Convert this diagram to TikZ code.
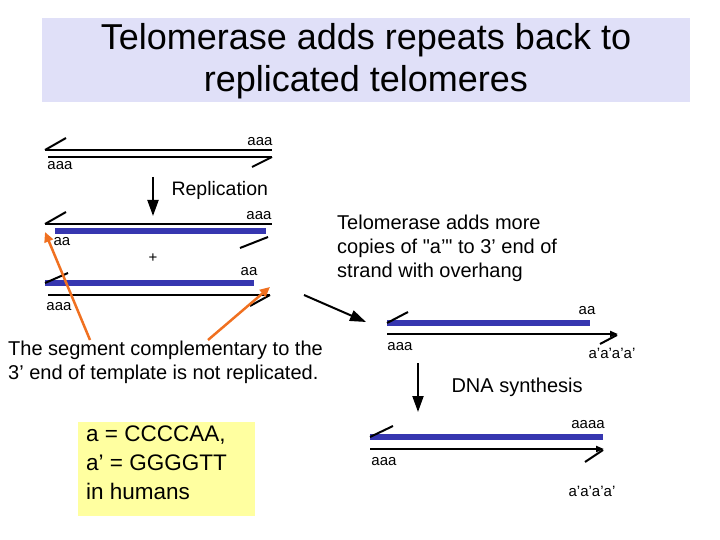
\documentclass[tikz,border=0pt]{standalone}
\usepackage{fontspec}
\setmainfont{Liberation Sans}
\usetikzlibrary{arrows.meta}
\definecolor{titlebg}{HTML}{E0E0F8}
\definecolor{dnablue}{HTML}{3636B0}
\definecolor{orng}{HTML}{F07020}
\definecolor{yel}{HTML}{FFFFA0}
\begin{document}
\begin{tikzpicture}[x=1pt,y=-1pt,
  strand/.style={line width=2.2pt},
  newdna/.style={line width=6pt,dnablue},
  barb/.style={line width=2pt},
  lbl/.style={font=\fontsize{15}{17}\selectfont,inner sep=0pt},
  bigarrow/.style={line width=2pt,-{Triangle[length=16pt,width=11pt]}},
  orarrow/.style={line width=2.5pt,orng,-{Triangle[length=10pt,width=9pt]}}]
\useasboundingbox (0,0) rectangle (720,540);
\fill[titlebg] (42,18) rectangle (690,102);
\node[font=\fontsize{36}{42}\selectfont,align=center] (title) at (366,61) {Telomerase adds repeats back to\\replicated telomeres};
% pair 1
\coordinate (a1) at (45,150); \coordinate (a2) at (272,150);
\draw[strand] (a1) -- (a2); \draw[barb] (a1) -- (66,138);
\coordinate (b1) at (48,157); \coordinate (b2) at (272,157);
\draw[strand] (b1) -- (b2); \draw[barb] (b2) -- (252,167);
\node[lbl] (l1) at (260,142) {aaa};
\node[lbl] (l2) at (60,166) {aaa};
% replication
\coordinate (r1) at (153,177); \coordinate (r2) at (153,216);
\draw[bigarrow] (r1) -- (r2);
\node[font=\fontsize{19.5}{22}\selectfont,anchor=west] (rep) at (168,190) {Replication};
% pair 2
\coordinate (c1) at (45,224); \coordinate (c2) at (272,224);
\draw[strand] (c1) -- (c2); \draw[barb] (c1) -- (66,212);
\draw[newdna] (55,231) -- (266,231);
\draw[barb] (268,237) -- (240,248);
\node[lbl] (l3) at (259,216) {aaa};
\node[lbl] (l4) at (62,242) {aa};
\node[font=\fontsize{15}{17}\selectfont] (plus) at (153,258) {+};
% pair 3
\draw[newdna] (45,283) -- (254,283);
\draw[barb] (45,283) -- (68,273);
\coordinate (d1) at (48,295); \coordinate (d2) at (270,295);
\draw[strand] (d1) -- (d2); \draw[barb] (d2) -- (250,306);
\node[lbl] (l5) at (249,272) {aa};
\node[lbl] (l6) at (59,307) {aaa};
% orange arrows
\coordinate (o1) at (90,340); \coordinate (o1t) at (45,232);
\coordinate (o2) at (208,340); \coordinate (o2t) at (270,287);
\draw[orarrow] (o1) -- (o1t);
\draw[orarrow] (o2) -- (o2t);
\node[font=\fontsize{20}{24}\selectfont,align=left,anchor=north west,inner sep=0pt] (seg) at (8,341) {The segment complementary to the\\3’ end of template is not replicated.};
\node[fill=yel,minimum width=177pt,minimum height=94pt,anchor=north west] (ybox) at (78,422) {};
\node[font=\fontsize{22.5}{29}\selectfont,align=left,anchor=north west,inner sep=0pt] (ytext) at (86,426) {a = CCCCAA,\\a’ = GGGGTT\\in humans};
% telomerase text
\node[font=\fontsize{20}{24}\selectfont,align=left,anchor=north west,inner sep=0pt] (tel) at (337,215) {Telomerase adds more\\copies of \textquotedbl a’\textquotedbl{} to 3’ end of\\strand with overhang};
\coordinate (t1) at (304,295); \coordinate (t2) at (366,322);
\draw[bigarrow] (t1) -- (t2);
% right group 1
\draw[newdna] (387,323) -- (590,323);
\draw[barb] (387,323) -- (408,312);
\coordinate (e1) at (387,334); \coordinate (e2) at (618,334);
\draw[strand,-{Triangle[length=8pt,width=6pt]}] (e1) -- (e2);
\draw[barb] (617,335) -- (600,344);
\node[lbl] (l7) at (587,311) {aa};
\node[lbl] (l8) at (400,347) {aaa};
\node[lbl] (l9) at (612,353) {a’a’a’a’};
% DNA synthesis
\coordinate (s1) at (418,363); \coordinate (s2) at (418,412);
\draw[bigarrow] (s1) -- (s2);
\node[font=\fontsize{20}{22}\selectfont,anchor=west] (syn) at (448,387) {DNA synthesis};
% right group 2
\draw[newdna] (370,437) -- (603,437);
\draw[barb] (370,437) -- (393,426);
\coordinate (f1) at (370,449); \coordinate (f2) at (604,449);
\draw[strand,-{Triangle[length=8pt,width=6pt]}] (f1) -- (f2);
\draw[barb] (603,450) -- (585,462);
\node[lbl] (l10) at (588,425) {aaaa};
\node[lbl] (l11) at (384,462) {aaa};
\node[lbl] (l12) at (592,491) {a’a’a’a’};
\end{tikzpicture}
\end{document}
